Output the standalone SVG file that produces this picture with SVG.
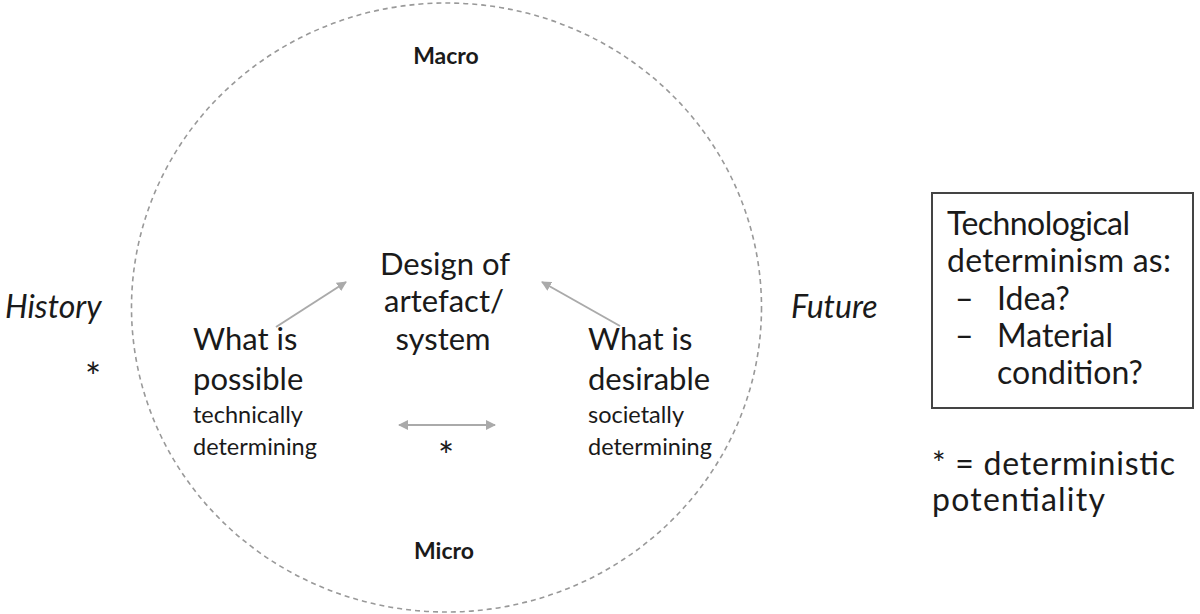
<svg xmlns="http://www.w3.org/2000/svg" width="1200" height="614" viewBox="0 0 1200 614">
<defs>
<marker id="ah" viewBox="0 0 10 10" refX="9" refY="5" markerWidth="5" markerHeight="5" orient="auto-start-reverse" markerUnits="strokeWidth">
<path d="M0,0 L10,5 L0,10 Z" fill="#aaaaaa"/>
</marker>
<style>
text{font-family:Lato,"Liberation Sans",sans-serif;fill:#1a1a1a}
.big{font-size:31px}
.box{font-size:32px}
.sm{font-size:23.5px}
.star{font-size:38px}
.bold{font-size:23px;font-weight:bold}
.it{font-size:32px;font-style:italic}
.conn{stroke:#aaaaaa;stroke-width:2;fill:none;marker-end:url(#ah)}
</style>
</defs>
<rect width="1200" height="614" fill="#ffffff"/>
<g id="scope">
<ellipse cx="446.5" cy="307.5" rx="315" ry="304.5" fill="none" stroke="#999999" stroke-width="1.6" stroke-dasharray="5,4"/>
</g>
<g id="connectors">
<line class="conn" x1="276" y1="327" x2="346" y2="282"/>
<line class="conn" x1="620" y1="326" x2="542" y2="282"/>
<line class="conn" x1="399" y1="425" x2="495" y2="425" style="marker-start:url(#ah)"/>
</g>
<g id="macro"><text class="bold" x="446" y="64" text-anchor="middle">Macro</text></g>
<g id="micro"><text class="bold" x="444" y="559" text-anchor="middle">Micro</text></g>
<g id="design">
<text class="big" x="445" y="275" text-anchor="middle">Design of</text>
<text class="big" x="444" y="312" text-anchor="middle">artefact/</text>
<text class="big" x="443" y="350" text-anchor="middle">system</text>
</g>
<g id="possible">
<text class="big" x="193" y="350">What is</text>
<text class="big" x="193" y="390">possible</text>
<text class="sm" x="193" y="423">technically</text>
<text class="sm" x="193" y="455">determining</text>
</g>
<g id="desirable">
<text class="big" x="588" y="350">What is</text>
<text class="big" x="588" y="390">desirable</text>
<text class="sm" x="588" y="423">societally</text>
<text class="sm" x="588" y="455">determining</text>
</g>
<g id="mid-star"><text class="star" x="446" y="470" text-anchor="middle">*</text></g>
<g id="history">
<text class="it" x="5" y="318">History</text>
<text class="star" x="93" y="391" text-anchor="middle">*</text>
</g>
<g id="future"><text class="it" x="791" y="318">Future</text></g>
<g id="legend-box">
<rect x="932" y="193" width="261" height="215" fill="none" stroke="#444444" stroke-width="2"/>
<text class="box" x="947" y="235" textLength="183">Technological</text>
<text class="box" x="947" y="272" textLength="224">determinism as:</text>
<text class="box" x="955" y="310">–</text><text class="box" x="997" y="310">Idea?</text>
<text class="box" x="955" y="347">–</text><text class="box" x="997" y="347">Material</text>
<text class="box" x="997" y="384">condition?</text>
</g>
<g id="legend-note">
<text class="box" x="932" y="475" textLength="243">* = deterministic</text>
<text class="box" x="932" y="511" textLength="173">potentiality</text>
</g>
</svg>
